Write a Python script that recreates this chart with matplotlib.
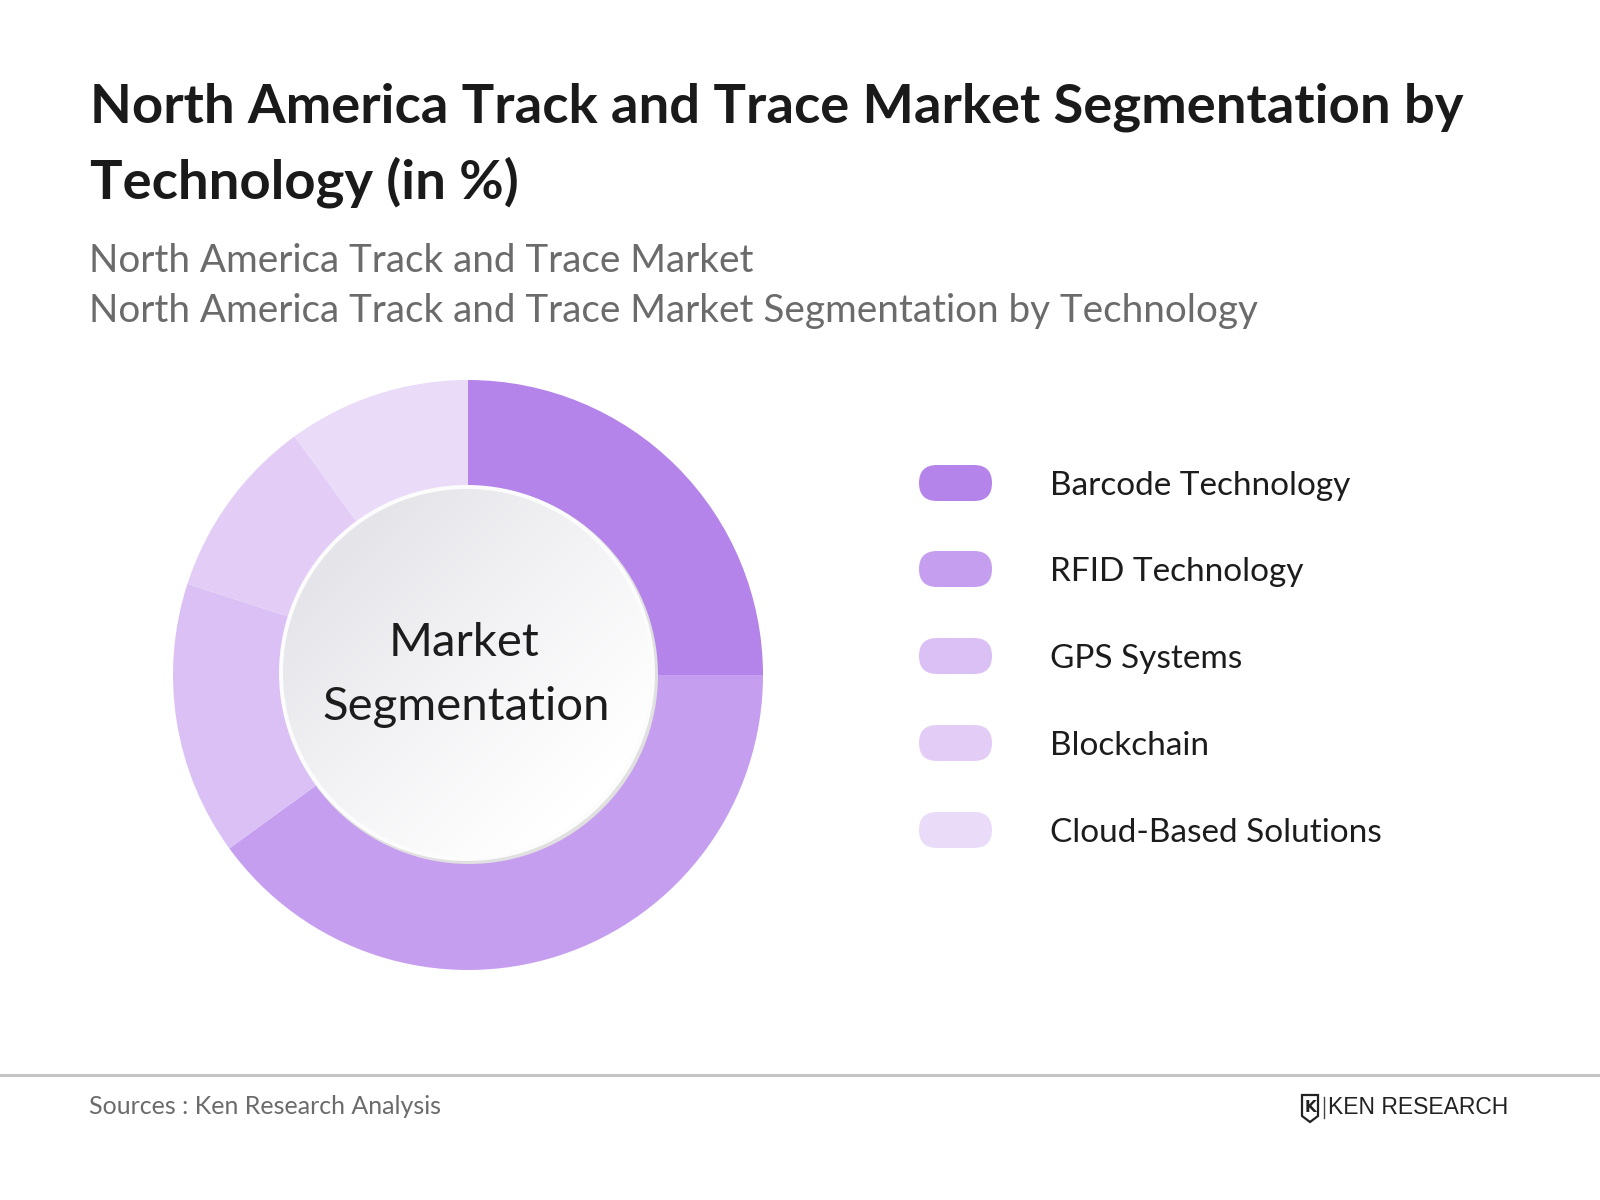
import numpy as np
import matplotlib
matplotlib.use("Agg")
import matplotlib.pyplot as plt
from matplotlib.patches import Circle, FancyBboxPatch, Polygon

# ---- data ----
categories = ["Barcode Technology", "RFID Technology", "GPS Systems", "Blockchain", "Cloud-Based Solutions"]
shares = [25, 40, 15, 10, 10]
colors = ["#b484ea", "#c69ef0", "#dac0f5", "#e3cdf7", "#eadbf9"]

title_lines = ["North America Track and Trace Market Segmentation by", "Technology (in %)"]
subtitle_lines = ["North America Track and Trace Market",
                  "North America Track and Trace Market Segmentation by Technology"]
center_label = ["Market", "Segmentation"]
source_text = "Sources : Ken Research Analysis"
brand_text = "KEN RESEARCH"

W, H = 1600, 1200
fig = plt.figure(figsize=(16, 12), dpi=100)
fig.patch.set_facecolor("white")
ax = fig.add_axes([0, 0, 1, 1])

def Y(y):  # top-based pixel -> data y
    return H - y

# donut
cx, cy, R = 468, 675, 295
ax.pie(shares, colors=colors, startangle=90, counterclock=False,
       center=(cx, Y(cy)), radius=R,
       wedgeprops=dict(width=120, linewidth=0))

# inner circle: shadow, white rim, gradient
icx, icy = 467, 673
ax.add_patch(Circle((icx + 2, Y(icy) - 2), 189, facecolor="#e0e0e0", edgecolor="none", zorder=3))
ax.add_patch(Circle((icx, Y(icy)), 188, facecolor="#fcfcfc", edgecolor="none", zorder=4))
r_in = 184
n = 300
xs = np.linspace(-1, 1, n)
XX, YY = np.meshgrid(xs, xs)
t = np.clip((XX + YY) / 2.6 + 0.5, 0, 1)  # 0 at top-left, 1 at bottom-right
c0 = np.array([0.895, 0.895, 0.915])
c1 = np.array([1.0, 1.0, 1.0])
img = c0[None, None, :] * (1 - t[..., None] ** 0.8) + c1[None, None, :] * t[..., None] ** 0.8
im = ax.imshow(img, extent=(icx - r_in, icx + r_in, Y(icy) - r_in, Y(icy) + r_in),
               origin="upper", zorder=5, interpolation="bilinear")
clip = Circle((icx, Y(icy)), r_in, transform=ax.transData)
im.set_clip_path(clip)

ax.text(cx - 4, Y(656), center_label[0], ha="center", va="baseline", fontsize=34,
        family="Lato", color="#1c1c1c", zorder=6)
ax.text(cx - 2, Y(720), center_label[1], ha="center", va="baseline", fontsize=34,
        family="Lato", color="#1c1c1c", zorder=6)

# legend
leg_y = [483, 569, 656, 743, 830]
for lab, col, ly in zip(categories, colors, leg_y):
    ax.add_patch(FancyBboxPatch((919, Y(ly) - 18), 73, 36,
                                boxstyle="round,pad=0,rounding_size=18",
                                facecolor=col, edgecolor="none"))
    ax.text(1050, Y(ly), lab, ha="left", va="center_baseline", fontsize=24,
            family="Lato", color="#1c1c1c")

# title & subtitle
ax.text(90, Y(122), title_lines[0], ha="left", va="baseline", fontsize=39.2,
        family="Lato", fontweight="bold", color="#1a1a1a")
ax.text(90, Y(198), title_lines[1], ha="left", va="baseline", fontsize=39.2,
        family="Lato", fontweight="bold", color="#1a1a1a")
ax.text(89, Y(272), subtitle_lines[0], ha="left", va="baseline", fontsize=27.8,
        family="Lato", color="#6b6b6b")
ax.text(89, Y(322), subtitle_lines[1], ha="left", va="baseline", fontsize=27.8,
        family="Lato", color="#6b6b6b")

# footer
ax.plot([0, W], [Y(1075), Y(1075)], color="#c4c4c4", linewidth=2.2)
ax.text(89, Y(1114), source_text, ha="left", va="baseline", fontsize=18,
        family="Lato", color="#6b6b6b")
# brand mark
kx, ky = 1302, 1108
ax.add_patch(Polygon([(kx, Y(ky - 13)), (kx + 16, Y(ky - 13)), (kx + 16, Y(ky + 8)),
                      (kx + 8, Y(ky + 14)), (kx, Y(ky + 8))],
                     closed=True, facecolor="white", edgecolor="#222222", linewidth=1.6))
ax.text(kx + 8, Y(ky), "K", ha="center", va="center", fontsize=11, family="DejaVu Sans",
        fontweight="bold", color="#222222")
ax.plot([kx + 22, kx + 22], [Y(ky - 11), Y(ky + 10)], color="#444444", linewidth=1)
ax.text(kx + 26, Y(ky), brand_text, ha="left", va="center", fontsize=16.5,
        family="Liberation Sans", color="#222222")

ax.set_xlim(0, W)
ax.set_ylim(0, H)
ax.set_aspect("auto")
ax.set_axis_off()

fig.savefig("out.png", dpi=100, facecolor="white")
